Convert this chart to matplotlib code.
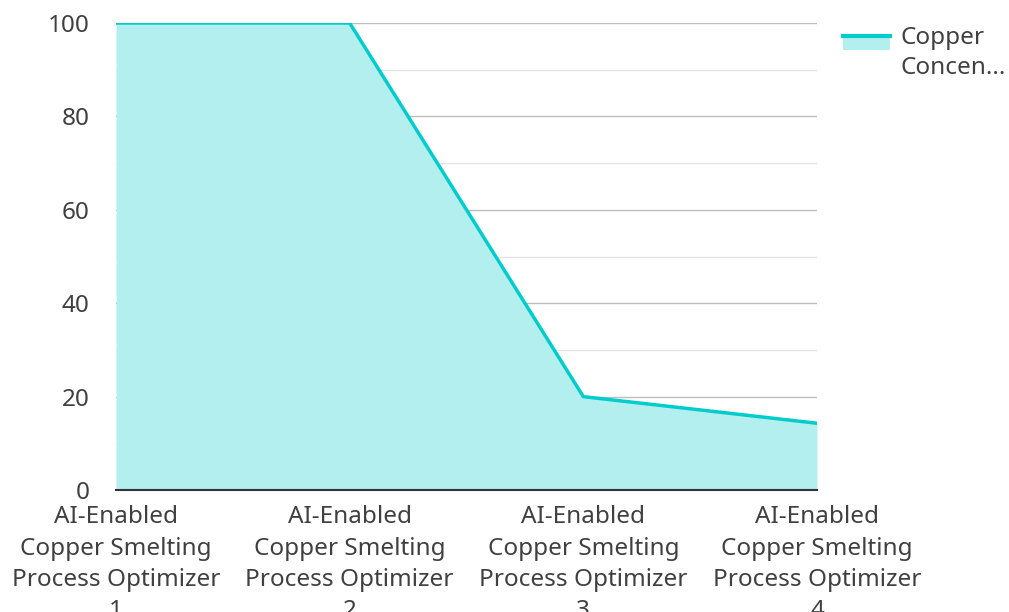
import matplotlib.pyplot as plt
from matplotlib.legend_handler import HandlerBase
from matplotlib.patches import Rectangle
from matplotlib.lines import Line2D

plt.rcParams['font.family'] = ['Noto Sans', 'DejaVu Sans']

# data
labels = ['AI-Enabled\nCopper Smelting\nProcess Optimizer\n1',
          'AI-Enabled\nCopper Smelting\nProcess Optimizer\n2',
          'AI-Enabled\nCopper Smelting\nProcess Optimizer\n3',
          'AI-Enabled\nCopper Smelting\nProcess Optimizer\n4']
values = [100, 100, 20, 14.3]
series_name = 'Copper\nConcen...'

line_col = '#00cccc'
fill_col = '#b2efee'
text_col = '#404040'
fs = 17.5


class AreaHandler(HandlerBase):
    # legend key: filled box with a line on top, aligned with first text line
    def create_artists(self, legend, orig, xd, yd, w, h, fontsize, trans):
        top = yd + h - 26.5
        rect = Rectangle((xd, top - 10), w, 10, facecolor=fill_col,
                         edgecolor='none', transform=trans)
        ln = Line2D([xd, xd + w], [top, top],
                    color=line_col, lw=3, transform=trans)
        return [rect, ln]


fig = plt.figure(figsize=(10.09, 6.12), dpi=100)
ax = fig.add_axes([0.115, 0.1993, 0.6947, 0.7631])

x = list(range(len(values)))
ax.fill_between(x, values, 0, color=fill_col, lw=0, zorder=2)
line, = ax.plot(x, values, color=line_col, lw=2.5, zorder=3,
                solid_joinstyle='miter')

ax.set_xlim(0, len(values) - 1)
ax.set_ylim(0, 100)
ax.set_yticks([0, 20, 40, 60, 80, 100])
ax.set_yticks([10, 30, 50, 70, 90], minor=True)
ax.grid(axis='y', which='major', color='#bdbdbd', lw=1, zorder=1)
ax.grid(axis='y', which='minor', color='#e3e3e3', lw=1, zorder=1)
ax.set_xticks(x)
ax.set_xticklabels(labels, fontsize=fs, color=text_col, linespacing=1.4)
ax.tick_params(axis='y', labelsize=fs, labelcolor=text_col, length=0, pad=19)
ax.tick_params(axis='y', which='minor', length=0)
ax.tick_params(axis='x', length=0, pad=11)
for s in ['top', 'right', 'left']:
    ax.spines[s].set_visible(False)
ax.spines['bottom'].set_color('#333333')
ax.spines['bottom'].set_linewidth(1.5)
ax.spines['bottom'].set_zorder(4)

leg = ax.legend([line], [series_name], handler_map={line: AreaHandler()},
                loc='upper left', bbox_to_anchor=(1.037, 0.994), frameon=False,
                fontsize=fs, labelcolor=text_col, handlelength=1.93,
                handleheight=2.6, handletextpad=0.45, borderaxespad=0,
                borderpad=0)
leg.get_texts()[0].set_linespacing(1.36)

fig.savefig('out.png', dpi=100)
